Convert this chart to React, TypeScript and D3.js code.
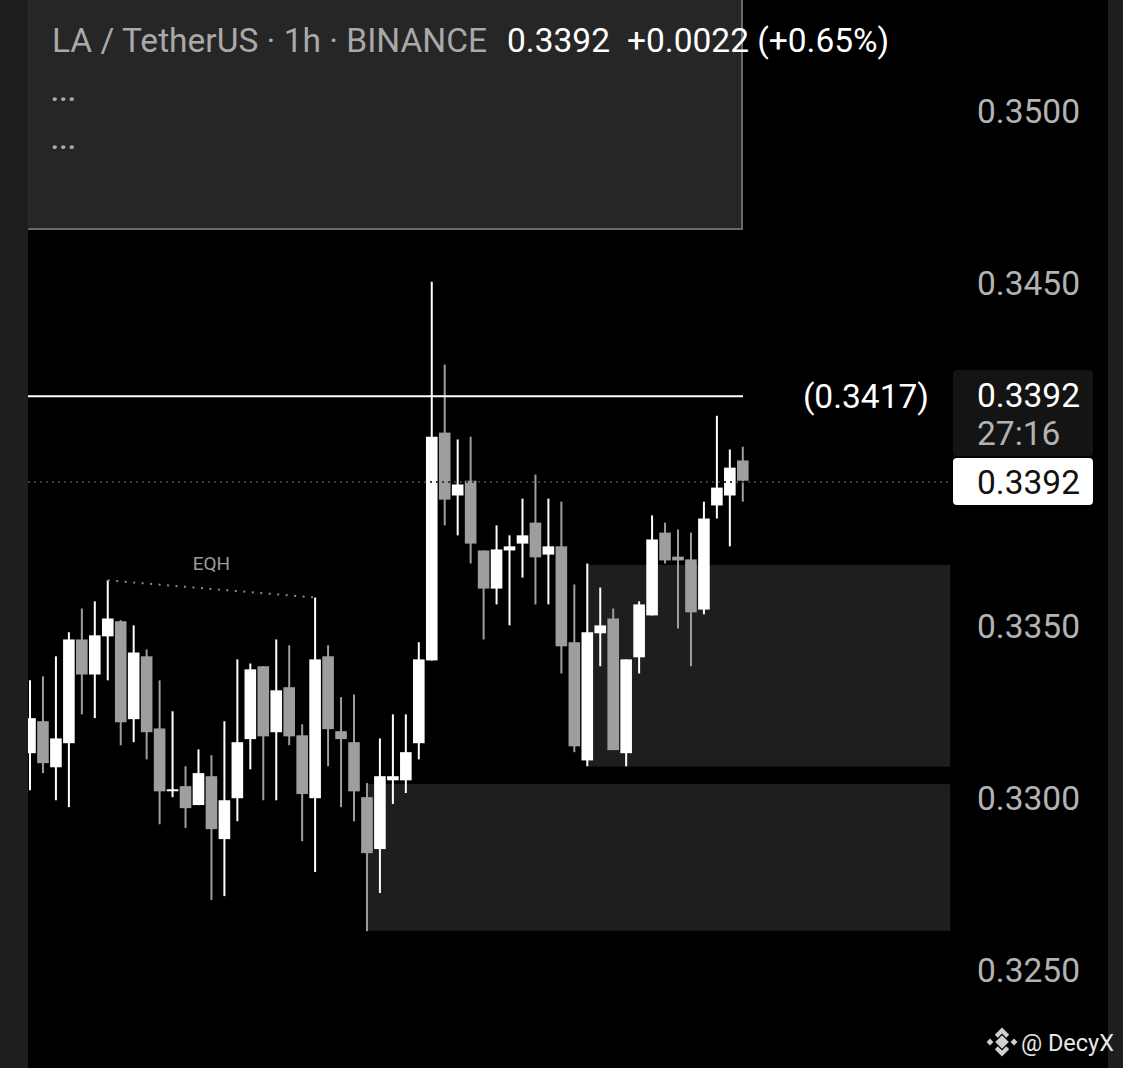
import React from "react";
import * as d3 from "d3";

const W = 1123;
const H = 1068;

// OHLC series (1h candles)
const openP = [0.33131,0.33224,0.33090,0.33160,0.33462,0.33360,0.33471,0.33515,0.33230,0.33413,
0.33203,0.33023,0.33035,0.32980,0.33064,0.32881,0.33000,0.33172,0.33384,0.33192,
0.33323,0.33183,0.33000,0.33413,0.33195,0.33163,0.33003,0.32852,0.33052,0.33052,
0.33160,0.33401,0.34064,0.33881,0.33924,0.33721,0.33610,0.33721,0.33741,0.33802,
0.33709,0.33733,0.33454,0.33110,0.33480,0.33523,0.33131,0.33410,0.33532,0.33773,
0.33703,0.33695,0.33549,0.33852,0.33881,0.33983];
const highP = [0.33343,0.33355,0.33413,0.33483,0.33552,0.33573,0.33634,0.33518,0.33503,0.33433,
0.33343,0.33253,0.33093,0.33142,0.33125,0.33224,0.33404,0.33392,0.33384,0.33462,
0.33445,0.33215,0.33584,0.33445,0.33294,0.33302,0.33044,0.33174,0.33244,0.33244,
0.33454,0.34503,0.34262,0.34044,0.34052,0.33721,0.33794,0.33765,0.33872,0.33942,
0.33872,0.33863,0.33622,0.33683,0.33613,0.33552,0.33404,0.33573,0.33823,0.33802,
0.33782,0.33773,0.33863,0.34113,0.34015,0.34023];
const lowP = [0.33023,0.33073,0.32994,0.32974,0.33244,0.33233,0.33343,0.33154,0.33163,0.33113,
0.32924,0.33003,0.32913,0.32980,0.32704,0.32715,0.32933,0.33084,0.32994,0.32994,
0.33154,0.32875,0.32785,0.33093,0.32974,0.32933,0.32613,0.32724,0.32983,0.33015,
0.33113,0.33401,0.33794,0.33765,0.33683,0.33462,0.33564,0.33503,0.33642,0.33564,
0.33564,0.33363,0.33134,0.33093,0.33384,0.33140,0.33093,0.33363,0.33532,0.33683,
0.33494,0.33384,0.33535,0.33814,0.33733,0.33863];
const closeP = [0.33233,0.33102,0.33174,0.33462,0.33360,0.33474,0.33523,0.33221,0.33424,0.33192,
0.33020,0.33026,0.32971,0.33073,0.32910,0.32994,0.33163,0.33375,0.33180,0.33314,
0.33180,0.33012,0.33404,0.33201,0.33172,0.33020,0.32840,0.33064,0.33064,0.33134,
0.33404,0.34052,0.33869,0.33913,0.33741,0.33610,0.33724,0.33733,0.33765,0.33701,
0.33733,0.33442,0.33151,0.33483,0.33503,0.33140,0.33404,0.33564,0.33753,0.33692,
0.33692,0.33541,0.33814,0.33904,0.33962,0.33924];

const priceTicks = [0.35, 0.345, 0.335, 0.33, 0.325];

// zones: [startIndex, endIndex, top, bottom]
const zoneStart = [43, 26];
const zoneEnd = [71, 71];
const zoneTop = [0.33679, 0.33041];
const zoneBottom = [0.33092, 0.32614];

const levelPrice = 0.3417;
const lastPrice = 0.3392;
const eqhFrom = 6;
const eqhTo = 22;

const headerTitle = "LA / TetherUS · 1h · BINANCE";
const headerPrice = "0.3392";
const headerChange = "+0.0022 (+0.65%)";
const countdown = "27:16";

const FONT = "Roboto, 'Noto Sans', sans-serif";
const FS = 33.5;

export default function App() {
  const n = openP.length;
  const x = d3.scaleLinear().domain([0, n - 1]).range([30, 742.8]);
  const y = d3.scaleLinear().domain([0.325, 0.35]).range([970, 111]);
  const bodyW = 11.6;
  const fmt = d3.format(".4f");

  const candles = d3.range(n).map((i) => {
    const up = closeP[i] >= openP[i];
    const top = y(Math.max(openP[i], closeP[i]));
    const bot = y(Math.min(openP[i], closeP[i]));
    return { i, up, top, bot, hi: y(highP[i]), lo: y(lowP[i]) };
  });

  return (
    <svg width={W} height={H} style={{ display: "block", position: "absolute", left: 0, top: 0 }}>
      <rect x={0} y={0} width={W} height={H} fill="#000" />
      {/* zones */}
      {zoneStart.map((s, k) => (
        <rect key={"z" + k} x={x(s)} y={y(zoneTop[k])} width={x(zoneEnd[k]) - x(s)}
          height={y(zoneBottom[k]) - y(zoneTop[k])} fill="#1e1e1e" />
      ))}
      {/* candles */}
      {candles.map((c) => {
        const col = c.up ? "#ffffff" : "#9e9e9e";
        return (
          <g key={c.i}>
            <line x1={x(c.i)} x2={x(c.i)} y1={c.hi} y2={c.lo} stroke={col} strokeWidth={2} />
            <rect x={x(c.i) - bodyW / 2} y={c.top} width={bodyW} height={Math.max(2, c.bot - c.top)} fill={col} />
          </g>
        );
      })}
      {/* level line */}
      <line x1={28} x2={743} y1={y(levelPrice)} y2={y(levelPrice)} stroke="#fff" strokeWidth={2} />
      {/* last price dotted line */}
      <line x1={28} x2={950} y1={y(lastPrice)} y2={y(lastPrice)} stroke="#3a3a3a" strokeWidth={2} strokeDasharray="2,4" />
      {/* EQH */}
      <line x1={x(eqhFrom)} y1={y(highP[eqhFrom])} x2={x(eqhTo)} y2={y(highP[eqhTo])}
        stroke="#8a8a8a" strokeWidth={2} strokeDasharray="2,6.5" />
      <text x={(x(eqhFrom) + x(eqhTo)) / 2} y={570} textAnchor="middle" fill="#9a9a9a"
        fontFamily={FONT} fontSize={19}>EQH</text>
      {/* left strip */}
      <rect x={0} y={0} width={28} height={H} fill="#1e1e1e" />
      {/* right strip */}
      <rect x={1108} y={0} width={15} height={H} fill="#1e1e1e" />
      {/* header panel */}
      <rect x={28} y={0} width={715} height={230} fill="#262626" />
      <line x1={742} x2={742} y1={0} y2={230} stroke="#6a6a6a" strokeWidth={2} />
      <line x1={28} x2={743} y1={229} y2={229} stroke="#6a6a6a" strokeWidth={2} />
      <line x1={28.5} x2={28.5} y1={0} y2={229} stroke="#3a3a3a" strokeWidth={1} strokeDasharray="1,2" />
      <text x={52} y={52} fill="#a9a9a9" fontFamily={FONT} fontSize={FS}>{headerTitle}</text>
      <text x={507} y={52} fill="#ffffff" fontFamily={FONT} fontSize={FS}>{headerPrice}</text>
      <text x={627} y={52} fill="#ffffff" fontFamily={FONT} fontSize={FS}>{headerChange}</text>
      <text x={51} y={101} fill="#a9a9a9" fontFamily={FONT} fontSize={26} fontWeight="bold" letterSpacing={1}>...</text>
      <text x={51} y={149} fill="#a9a9a9" fontFamily={FONT} fontSize={26} fontWeight="bold" letterSpacing={1}>...</text>
      {/* price axis labels */}
      {priceTicks.map((t) => (
        <text key={t} x={1080} y={y(t)} dy="0.36em" textAnchor="end" fill="#b3b3b3"
          fontFamily={FONT} fontSize={FS}>{fmt(t)}</text>
      ))}
      {/* level label */}
      <text x={929} y={y(levelPrice)} dy="0.36em" textAnchor="end" fill="#ffffff"
        fontFamily={FONT} fontSize={FS}>({fmt(levelPrice)})</text>
      {/* price tag */}
      <rect x={953} y={370} width={140} height={86} rx={4} fill="#141414" />
      <text x={977} y={407} fill="#ffffff" fontFamily={FONT} fontSize={FS}>{fmt(lastPrice)}</text>
      <text x={977} y={445} fill="#b3b3b3" fontFamily={FONT} fontSize={FS}>{countdown}</text>
      <rect x={953} y={458} width={140} height={47} rx={4} fill="#ffffff" />
      <text x={977} y={y(lastPrice)} dy="0.36em" fill="#111" fontFamily={FONT} fontSize={FS}>{fmt(lastPrice)}</text>
      {/* watermark */}
      <g transform="translate(1002,1042) scale(1.2)" fill="#d0d0d0">
        <rect x={-4} y={-4} width={8} height={8} transform="rotate(45)" />
        <path d="M0,-12 L6,-6 L3.5,-3.5 L0,-7 L-3.5,-3.5 L-6,-6 Z" />
        <path d="M0,12 L6,6 L3.5,3.5 L0,7 L-3.5,3.5 L-6,6 Z" />
        <rect x={-2} y={-2} width={4} height={4} transform="translate(-10,0) rotate(45)" />
        <rect x={-2} y={-2} width={4} height={4} transform="translate(10,0) rotate(45)" />
      </g>
      <text x={1021} y={1051} fill="#e6e6e6" fontFamily={FONT} fontSize={23.5}>@ DecyX</text>
    </svg>
  );
}
